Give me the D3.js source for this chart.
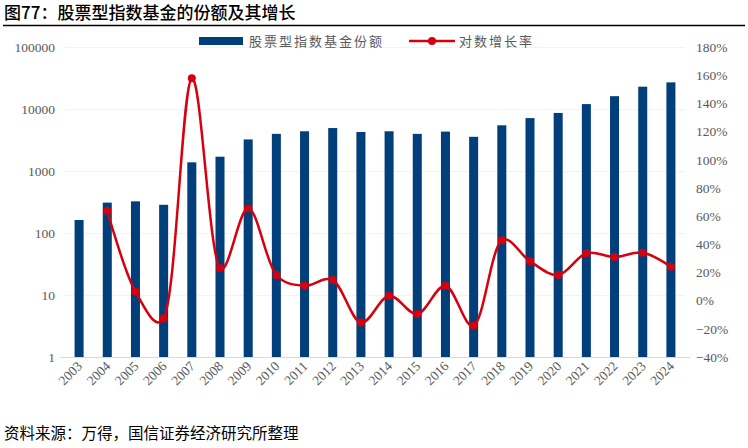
<!DOCTYPE html>
<html>
<head>
<meta charset="utf-8">
<script src="https://cdn.jsdelivr.net/npm/d3@7"></script>
<style>
  body { margin: 0; background: #fff; }
  svg { display: block; }
</style>
</head>
<body>
<svg></svg>
<script>
// Data
const years = ["2003","2004","2005","2006","2007","2008","2009","2010","2011","2012","2013",
               "2014","2015","2016","2017","2018","2019","2020","2021","2022","2023","2024"];
const shares = [162, 309, 324, 285, 1380, 1700, 3230, 3970, 4370, 4930, 4260,
                4370, 3970, 4320, 3560, 5460, 7130, 8640, 12000, 16100, 22900, 26900];
// log growth rate (%), no value for 2003
const growth = [null, 63.8, 6.4, -12.6, 157.8, 22.9, 65.5, 18.2, 10.6, 14.6, -15.6,
                3.5, -9.5, 10.6, -17.8, 42.8, 27.9, 18.2, 33.6, 31.0, 34.0, 24.1];
const leftTicks = [1, 10, 100, 1000, 10000, 100000];
const rightTicks = [-40, -20, 0, 20, 40, 60, 80, 100, 120, 140, 160, 180];

const width = 748, height = 448;
const barColor = "#003f7a", lineColor = "#d7000f";
const axisFont = "'Liberation Serif', 'DejaVu Serif', serif";
const cjkFont = "'Noto Sans CJK SC', sans-serif";

const svg = d3.select("svg")
    .attr("width", width)
    .attr("height", height);

const plotTop = 47, plotBottom = 357, plotLeft = 65, plotRight = 685;

// Scales
const x = d3.scaleBand()
    .domain(years)
    .range([plotLeft, plotRight])
    .paddingInner(0.68)
    .paddingOuter(0.34);

const yLeft = d3.scaleLog()
    .domain([1, 100000])
    .range([plotBottom, plotTop]);

const yRight = d3.scaleLinear()
    .domain([-40, 180])
    .range([plotBottom, plotTop]);

// Title
svg.append("text")
    .attr("x", 4).attr("y", 19)
    .attr("font-family", cjkFont)
    .attr("font-size", 17)
    .attr("font-weight", 500)
    .attr("fill", "#000")
    .text("图77：股票型指数基金的份额及其增长");

svg.append("line")
    .attr("x1", 3).attr("x2", 745)
    .attr("y1", 25.5).attr("y2", 25.5)
    .attr("stroke", "#000")
    .attr("stroke-width", 1.5);

// Gridlines
svg.append("g")
    .selectAll("line")
    .data(leftTicks.slice(1))
    .join("line")
    .attr("x1", plotLeft).attr("x2", plotRight)
    .attr("y1", d => yLeft(d) + 0.5).attr("y2", d => yLeft(d) + 0.5)
    .attr("stroke", "#f3f3f3");

// Left axis
const gLeft = svg.append("g")
    .attr("transform", `translate(${plotLeft},0)`)
    .call(d3.axisLeft(yLeft).tickValues(leftTicks).tickFormat(d3.format("d")).tickSize(0).tickPadding(10));
gLeft.select(".domain").remove();
gLeft.selectAll("text")
    .attr("font-family", axisFont)
    .attr("font-size", 13.5)
    .attr("fill", "#595959");

// Right axis
const gRight = svg.append("g")
    .attr("transform", `translate(${plotRight},0)`)
    .call(d3.axisRight(yRight).tickValues(rightTicks).tickFormat(d => d + "%").tickSize(0).tickPadding(11));
gRight.select(".domain").remove();
gRight.selectAll("text")
    .attr("font-family", axisFont)
    .attr("font-size", 13.5)
    .attr("fill", "#595959")
    .text(d => (d < 0 ? "\u2212" + (-d) : d) + "%");

// Bars
svg.append("g")
    .selectAll("rect")
    .data(years)
    .join("rect")
    .attr("x", d => x(d))
    .attr("width", x.bandwidth())
    .attr("y", (d, i) => yLeft(shares[i]))
    .attr("height", (d, i) => plotBottom - yLeft(shares[i]))
    .attr("fill", barColor);

// Baseline
svg.append("line")
    .attr("x1", plotLeft - 5).attr("x2", plotRight + 5)
    .attr("y1", plotBottom + 0.5).attr("y2", plotBottom + 0.5)
    .attr("stroke", "#d9d9d9")
    .attr("stroke-width", 1.2);

// X labels
svg.append("g")
    .selectAll("text")
    .data(years)
    .join("text")
    .attr("transform", d => `translate(${x(d) + x.bandwidth() / 2 + 4},${plotBottom + 10}) rotate(-45)`)
    .attr("text-anchor", "end")
    .attr("font-family", axisFont)
    .attr("font-size", 13.5)
    .attr("fill", "#595959")
    .text(d => d);

// Growth line
const pts = years.map((d, i) => ({ year: d, v: growth[i] })).filter(p => p.v !== null);
const line = d3.line()
    .x(p => x(p.year) + x.bandwidth() / 2)
    .y(p => yRight(p.v))
    .curve(d3.curveCatmullRom.alpha(0.25));

svg.append("path")
    .datum(pts)
    .attr("d", line)
    .attr("fill", "none")
    .attr("stroke", lineColor)
    .attr("stroke-width", 2.5);

svg.append("g")
    .selectAll("circle")
    .data(pts)
    .join("circle")
    .attr("cx", p => x(p.year) + x.bandwidth() / 2)
    .attr("cy", p => yRight(p.v))
    .attr("r", 4)
    .attr("fill", lineColor);

// Legend
const legend = svg.append("g").attr("font-family", cjkFont).attr("font-size", 13)
    .attr("fill", "#595959").attr("letter-spacing", 2);
legend.append("rect")
    .attr("x", 199).attr("y", 37).attr("width", 44).attr("height", 8)
    .attr("fill", barColor);
legend.append("text")
    .attr("x", 249).attr("y", 46)
    .text("股票型指数基金份额");
legend.append("line")
    .attr("x1", 409).attr("x2", 455).attr("y1", 41).attr("y2", 41)
    .attr("stroke", lineColor).attr("stroke-width", 2.5);
legend.append("circle")
    .attr("cx", 432).attr("cy", 41).attr("r", 4)
    .attr("fill", lineColor);
legend.append("text")
    .attr("x", 459).attr("y", 46)
    .text("对数增长率");

// Source
svg.append("text")
    .attr("x", 4).attr("y", 439)
    .attr("font-family", cjkFont)
    .attr("font-size", 15.5)
    .attr("fill", "#000")
    .text("资料来源：万得，国信证券经济研究所整理");
</script>
</body>
</html>
